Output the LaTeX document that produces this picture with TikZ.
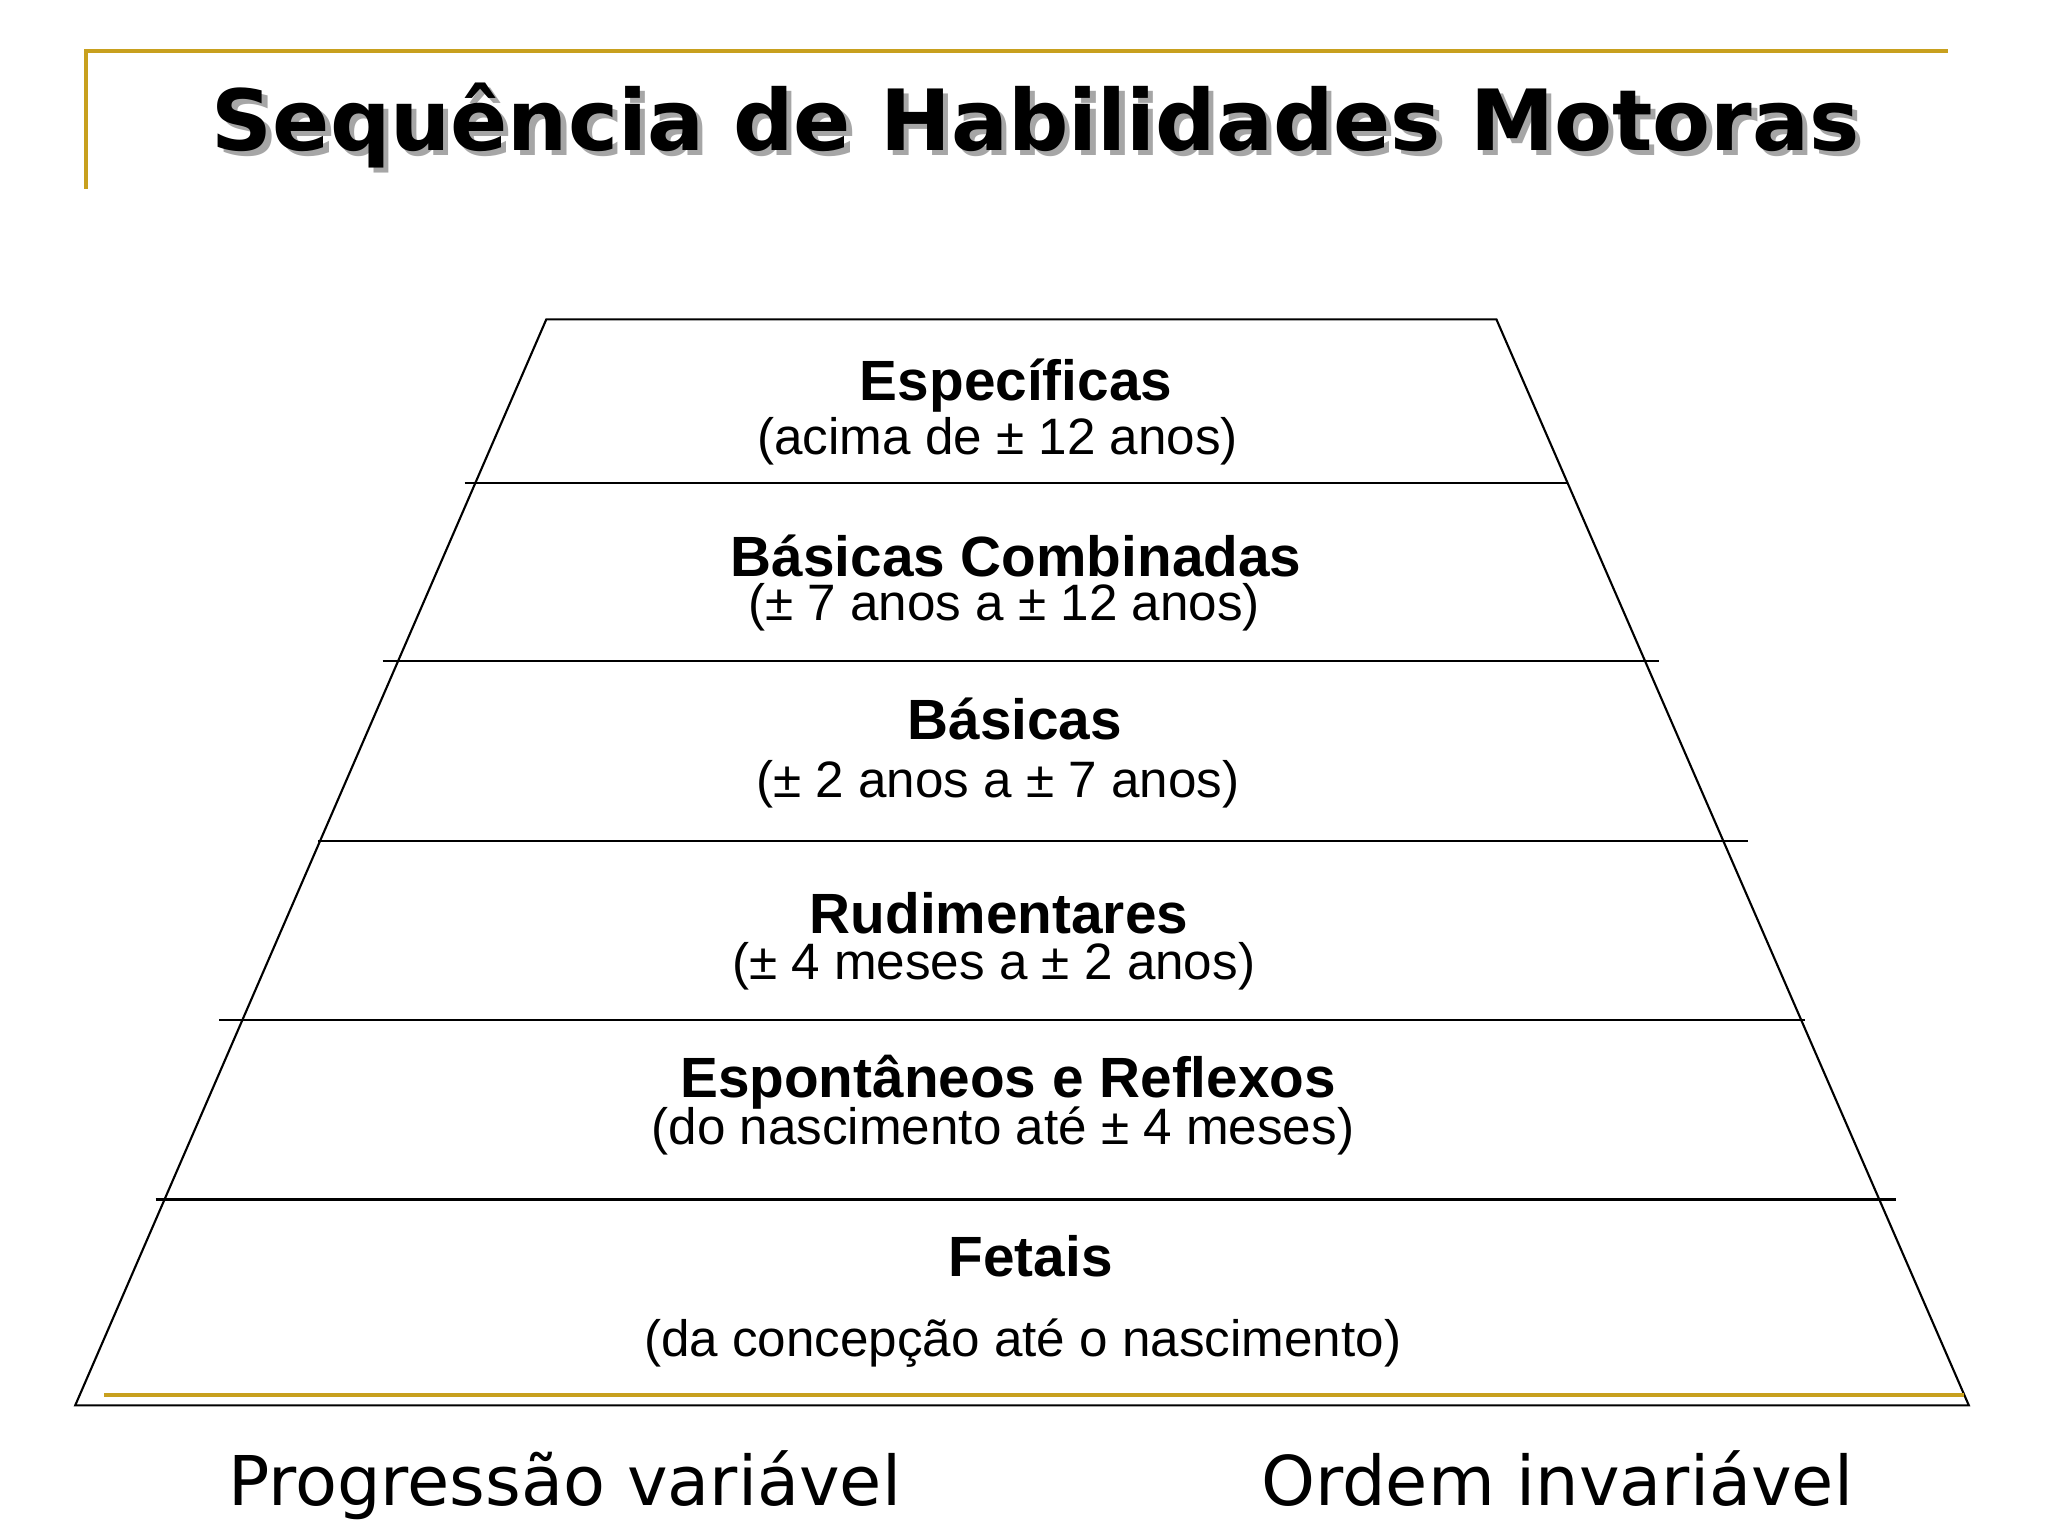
\documentclass[tikz,border=0pt]{standalone}
\usepackage{fontspec}
\setmainfont{Liberation Sans}
\newfontfamily\dvs{DejaVu Sans}
\definecolor{gold}{RGB}{200,160,30}
\begin{document}
\begin{tikzpicture}[x=0.5pt,y=-0.5pt,
  hd/.style={font=\fontsize{21.5}{25}\selectfont\bfseries,inner sep=0pt},
  sb/.style={font=\fontsize{19.4}{23}\selectfont,inner sep=0pt},
  ln/.style={line width=0.8pt}]
\useasboundingbox (0,0) rectangle (1552,1164);
\draw[gold,line width=1.5pt] (65,143) -- (65,39) -- (1476,39);
\node[text=black!35,font=\dvs\fontsize{32}{38}\selectfont\bfseries] at (789,99) {Sequência de Habilidades Motoras};
\node (title)[font=\dvs\fontsize{32}{38}\selectfont\bfseries] at (785,95) {Sequência de Habilidades Motoras};
\draw[ln] (57,1065) -- (414,242) -- (1134,242) -- (1492,1065) -- cycle;
\draw[ln] (352,366) -- (1188,366);
\draw[ln] (290,501) -- (1257,501);
\draw[ln] (241,637) -- (1325,637);
\draw[ln] (166,773) -- (1368,773);
\draw[ln] (118,909) -- (1437,909);
\draw[gold,line width=1.5pt] (79,1057) -- (1488,1057);
\node (h1)[hd] at (770,292) {Específicas};
\node (s1)[sb] at (756,334) {(acima de ± 12 anos)};
\node (h2)[hd] at (770,421) {Básicas Combinadas};
\node (s2)[sb] at (761,460) {(± 7 anos a ± 12 anos)};
\node (h3)[hd] at (769,545) {Básicas};
\node (s3)[sb] at (756,594) {(± 2 anos a ± 7 anos)};
\node (h4)[hd] at (757,692) {Rudimentares};
\node (s4)[sb] at (753,732) {(± 4 meses a ± 2 anos)};
\node (h5)[hd] at (764,820) {Espontâneos e Reflexos};
\node (s5)[sb] at (760,857) {(do nascimento até ± 4 meses)};
\node (h6)[hd] at (781,952) {Fetais};
\node (s6)[sb] at (775,1018) {(da concepção até o nascimento)};
\node (l)[font=\dvs\fontsize{26}{30}\selectfont,anchor=base] at (428,1141) {Progressão variável};
\node (r)[font=\dvs\fontsize{26}{30}\selectfont,anchor=base] at (1180,1141) {Ordem invariável};
\end{tikzpicture}
\end{document}
